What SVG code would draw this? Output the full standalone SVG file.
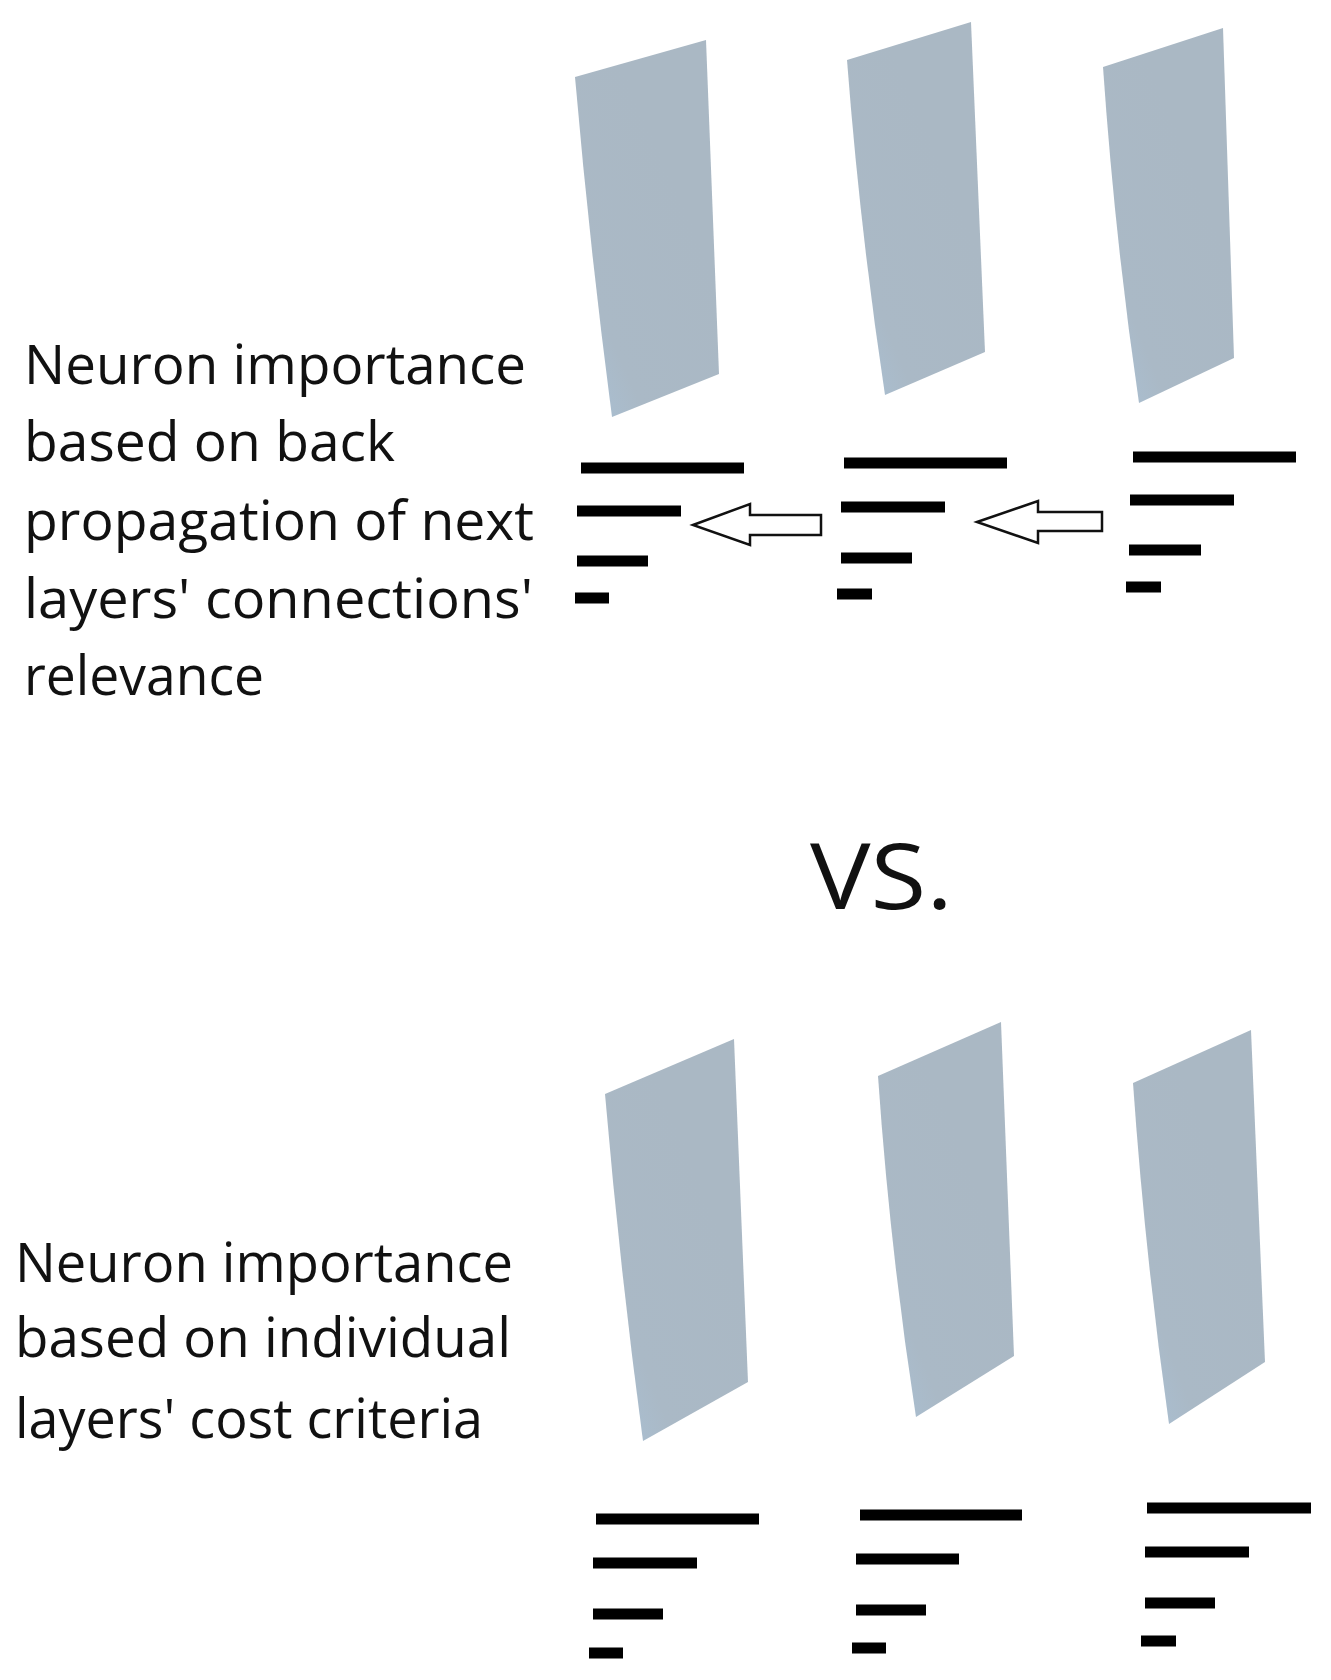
<svg xmlns="http://www.w3.org/2000/svg" width="1331" height="1680" viewBox="0 0 1331 1680">
<style>
.t{font-family:"Open Sans","Liberation Sans",sans-serif;font-size:54px;fill:#111}
.p{fill:url(#g)}
.b{stroke:#000;stroke-width:11;stroke-linecap:butt}
.a{fill:#fff;stroke:#111;stroke-width:2.5}
</style>
<defs>
<linearGradient id="g" x1="0" y1="1" x2="0.6" y2="0.3">
<stop offset="0" stop-color="#a9c1d6"/><stop offset="0.35" stop-color="#aab9c6"/><stop offset="1" stop-color="#aab8c4"/>
</linearGradient>
</defs>
<rect width="1331" height="1680" fill="#fff"/>
<g id="label-top">
<text class="t" x="24" y="384" textLength="502" lengthAdjust="spacingAndGlyphs">Neuron importance</text>
<text class="t" x="24" y="461" textLength="371" lengthAdjust="spacingAndGlyphs">based on back</text>
<text class="t" x="24" y="540" textLength="510" lengthAdjust="spacingAndGlyphs">propagation of next</text>
<text class="t" x="24" y="618" textLength="509" lengthAdjust="spacingAndGlyphs">layers' connections'</text>
<text class="t" x="24" y="695" textLength="240" lengthAdjust="spacingAndGlyphs">relevance</text>
</g>
<g id="top-layers">
<path class="p" d="M575,77 L706,40 L719,374 L612,417 Q590,250 575,77Z"/>
<path class="p" d="M847,60 L971,22 L985,352 L885,395 Q860,230 847,60Z"/>
<path class="p" d="M1103,67 L1223,28 L1234,358 L1139,403 Q1115,240 1103,67Z"/>
</g>
<g id="top-bars">
<line class="b" x1="581" y1="468" x2="744" y2="468"/><line class="b" x1="577" y1="511" x2="681" y2="511"/><line class="b" x1="577" y1="561" x2="648" y2="561"/><line class="b" x1="575" y1="598" x2="609" y2="598"/>
<line class="b" x1="844" y1="463" x2="1007" y2="463"/><line class="b" x1="841" y1="507" x2="945" y2="507"/><line class="b" x1="841" y1="558" x2="912" y2="558"/><line class="b" x1="837" y1="594" x2="872" y2="594"/>
<line class="b" x1="1133" y1="457" x2="1296" y2="457"/><line class="b" x1="1130" y1="500" x2="1234" y2="500"/><line class="b" x1="1129" y1="550" x2="1201" y2="550"/><line class="b" x1="1126" y1="587" x2="1161" y2="587"/>
</g>
<g id="connectors">
<path class="a" d="M693,525 L750,504 L750,515 L821,515 L821,535 L750,535 L750,545Z"/>
<path class="a" d="M977,522 L1038,501 L1038,512 L1102,512 L1102,531 L1038,531 L1038,543Z"/>
</g>
<g id="vs"><text x="810" y="909" textLength="143" lengthAdjust="spacingAndGlyphs" style="font-family:'Open Sans','Liberation Sans',sans-serif;font-size:92px;fill:#111">VS.</text></g>
<g id="label-bottom">
<text class="t" x="15" y="1282" textLength="498" lengthAdjust="spacingAndGlyphs">Neuron importance</text>
<text class="t" x="15" y="1357" textLength="496" lengthAdjust="spacingAndGlyphs">based on individual</text>
<text class="t" x="15" y="1438" textLength="468" lengthAdjust="spacingAndGlyphs">layers' cost criteria</text>
</g>
<g id="bottom-layers">
<path class="p" d="M605,1094 L734,1039 L748,1382 L643,1441 Q620,1270 605,1094Z"/>
<path class="p" d="M878,1076 L1001,1022 L1014,1356 L916,1417 Q890,1250 878,1076Z"/>
<path class="p" d="M1133,1083 L1251,1030 L1265,1362 L1169,1424 Q1145,1255 1133,1083Z"/>
</g>
<g id="bottom-bars">
<line class="b" x1="596" y1="1519" x2="759" y2="1519"/><line class="b" x1="593" y1="1563" x2="697" y2="1563"/><line class="b" x1="593" y1="1614" x2="663" y2="1614"/><line class="b" x1="589" y1="1653" x2="623" y2="1653"/>
<line class="b" x1="860" y1="1515" x2="1022" y2="1515"/><line class="b" x1="856" y1="1559" x2="959" y2="1559"/><line class="b" x1="856" y1="1610" x2="926" y2="1610"/><line class="b" x1="852" y1="1648" x2="886" y2="1648"/>
<line class="b" x1="1147" y1="1508" x2="1311" y2="1508"/><line class="b" x1="1145" y1="1552" x2="1249" y2="1552"/><line class="b" x1="1145" y1="1603" x2="1215" y2="1603"/><line class="b" x1="1141" y1="1641" x2="1176" y2="1641"/>
</g>
</svg>
